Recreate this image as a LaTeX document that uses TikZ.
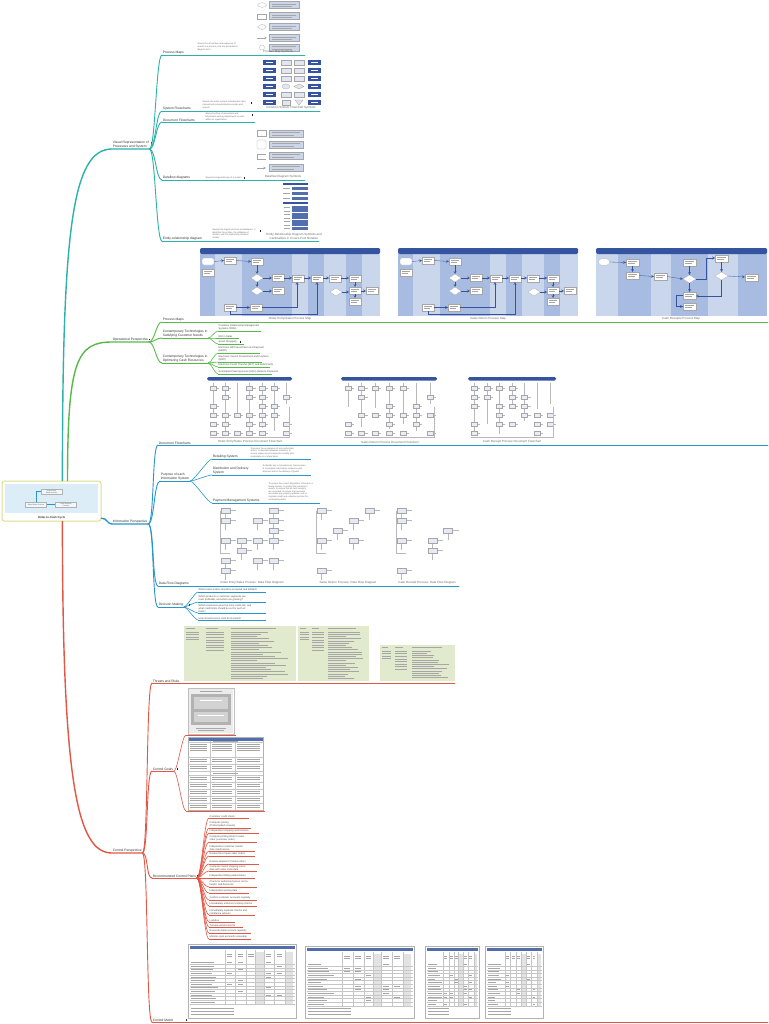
\documentclass[tikz,border=0pt]{standalone}
\usepackage{fontspec}
\setmainfont{Liberation Sans}
\newfontfamily\topicfont[Color=333333]{Liberation Sans}
\newfontfamily\leaffont[Color=4D4D4D]{Liberation Sans}
\newfontfamily\descfont[Color=6B6B6B]{Liberation Sans}
\usetikzlibrary{positioning}

\definecolor{tealbr}{RGB}{44,178,168}
\definecolor{greenbr}{RGB}{86,186,72}
\definecolor{bluebr}{RGB}{40,150,200}
\definecolor{redbr}{RGB}{228,86,68}
\definecolor{hdrblue}{RGB}{52,84,160}
\definecolor{lanelt}{RGB}{202,214,236}
\definecolor{lanedk}{RGB}{168,188,226}
\definecolor{symfill}{RGB}{204,214,234}
\definecolor{tblgreen}{RGB}{226,234,206}
\definecolor{rootbd}{RGB}{216,224,140}
\definecolor{rootin}{RGB}{220,237,247}

\tikzset{topic/.style = {font=\fontsize{3.3}{3.8}\topicfont,
                         inner sep=0.6pt, anchor=south west, align=left},
         leaf/.style = {font=\fontsize{2.5}{2.9}\leaffont,
                        inner sep=0.5pt, anchor=south west, align=left},
         descr/.style = {font=\fontsize{2.2}{2.6}\descfont,
                         inner sep=0.3pt, anchor=south west, align=left},
         imglabel/.style = {font=\fontsize{3}{3.5}\descfont,
                            inner sep=0.4pt, anchor=south, align=center},
         mainbr/.style = {line width=1.4, line cap=round},
         subbr/.style = {line width=0.9, line cap=round},
         leafbr/.style = {line width=0.6},
         wbox/.style = {fill=white, draw=gray!70, line width=0.2},
         txt/.style = {draw=black!35, line width=0.45},
         symline/.style = {draw=gray!70, line width=0.25},
         maplink/.style = {draw=hdrblue, line width=0.3, -stealth},
         mk/.style = {fill=black!85},
         rootbox/.style = {draw=rootbd, line width=1, fill=white, rounded corners=2.5,
                           minimum width=99, minimum height=40},
         orgbox/.style = {draw=gray!60, line width=0.25, fill=rootin!40!white,
                          font=\fontsize{1.7}{2}\leaffont, align=center,
                          minimum width=21, minimum height=5, inner sep=0.3pt},
         rootlbl/.style = {font=\fontsize{2.8}{3.2}\topicfont\bfseries}}

% swim-lane process map, order entry layout
\newcommand\procmapA[2]{%
  \begin{scope}[shift={(#1,#2)}]
    \fill[lanelt] (0,0) rectangle (180,68);
    \foreach \la/\lb in {0/15,42/92,108/124,146/162} \fill[lanedk] (\la,5) rectangle (\lb,68);
    \fill[hdrblue,rounded corners=1.5] (0,0) rectangle (180,6);
    \draw[wbox,rounded corners=2] (2,10) rectangle ++(12,7);
    \foreach \bx/\by in {2/21,24/9,51/10,72/26,72/39,92/27,111/27,129/27,149/27,149/39,149/50,166/39,24/56,50/56}{
      \draw[wbox] (\bx,\by) rectangle ++(12,7);
      \draw[txt,line width=0.3] ({\bx+2},{\by+2.5}) -- ++(8,0) ({\bx+2},{\by+4.5}) -- ++(6,0);}
    \foreach \dx/\dy in {51/30,51/43,130/44}
      \draw[wbox] (\dx,\dy) -- ++(6,-4) -- ++(6,4) -- ++(-6,4) -- cycle;
    \draw[maplink] (14,13.5) -- (24,12.5);
    \draw[maplink] (36,12.5) -- (51,13.5);
    \draw[maplink] (57,17) -- (57,26);
    \draw[maplink] (57,34) -- (57,39);
    \draw[maplink] (63,30) -- (72,30);
    \draw[maplink] (63,43) -- (72,43);
    \draw[maplink] (84,30) -- (92,30);
    \draw[maplink] (104,30) -- (111,30);
    \draw[maplink] (123,30) -- (129,30);
    \draw[maplink] (141,30) -- (149,30);
    \draw[maplink] (155,34) -- (155,39);
    \draw[maplink] (142,44) -- (149,44);
    \draw[maplink] (155,46) -- (155,50);
    \draw[maplink] (161,43) -- (166,43);
    \draw[maplink] (36,59.5) -- (50,59.5);
    \draw[maplink] (62,59.5) -- (97,59.5) -- (97,34);
    \draw[maplink] (30,63) -- (30,66) -- (117,66) -- (117,34);
  \end{scope}}

% swim-lane process map, cash receipts layout
\newcommand\procmapB[2]{%
  \begin{scope}[shift={(#1,#2)}]
    \fill[lanelt] (0,0) rectangle (171,68);
    \foreach \la/\lb in {22/55,75/112,142/171} \fill[lanedk] (\la,5) rectangle (\lb,68);
    \fill[hdrblue,rounded corners=1.5] (0,0) rectangle (171,6);
    \draw[wbox] (8,14) ellipse (6 and 3.5);
    \foreach \bx/\by in {30/11,30/24,58/25,87/11,87/44,87/55,119/7,149/26}{
      \draw[wbox] (\bx,\by) rectangle ++(13,7);
      \draw[txt,line width=0.3] ({\bx+2},{\by+2.5}) -- ++(9,0) ({\bx+2},{\by+4.5}) -- ++(7,0);}
    \foreach \dx/\dy in {87/31,119/28}
      \draw[wbox] (\dx,\dy) -- ++(6.5,-4) -- ++(6.5,4) -- ++(-6.5,4) -- cycle;
    \draw[maplink] (14,14) -- (30,14.5);
    \draw[maplink] (36.5,18) -- (36.5,24);
    \draw[maplink] (43,27.5) -- (58,28.5);
    \draw[maplink] (71,28.5) -- (87,31);
    \draw[maplink] (93.5,18) -- (93.5,27);
    \draw[maplink] (93.5,35) -- (93.5,44);
    \draw[maplink] (100,31) -- (110,31) -- (110,10) -- (119,10);
    \draw[maplink] (125.5,14) -- (125.5,24);
    \draw[maplink] (132,28) -- (149,29);
    \draw[maplink] (87,47.5) -- (80,47.5) -- (80,58.5) -- (87,58.5);
    \draw[maplink] (125.5,32) -- (125.5,48) -- (100,48);
  \end{scope}}

% document flowchart thumbnail
\newcommand\docflow[4]{% x, y, width, seed
  \begin{scope}[shift={(#1,#2)}]
    \pgfmathsetseed{#4}
    \fill[hdrblue,rounded corners=1.5] (0,0) rectangle (#3,3.5);
    \foreach \cl in {1,...,7}{
      \pgfmathsetmacro\xx{(\cl-0.5)*#3/7}
      \draw[gray!55,line width=0.25] (\xx,6) -- (\xx,{25+rnd*35});
      \foreach \rr in {1,...,6}{
        \pgfmathrandominteger{\kk}{0}{2}
        \ifnum\kk>0
          \draw[gray!55,line width=0.2] ({\xx+3},{\rr*9+2}) -- ++(3,0);
          \draw[wbox,fill=symfill!45] ({\xx-3},{\rr*9}) rectangle ++(6,4.5);
        \fi}}
    \draw[gray!55,line width=0.25] (3,60) -- ({#3-3},60) -- ({#3-3},30);
  \end{scope}}

% data flow diagram thumbnail
\newcommand\dfdpic[4]{% x, y, width, seed
  \begin{scope}[shift={(#1,#2)}]
    \pgfmathsetseed{#4}
    \foreach \rr in {0,...,6}{
      \foreach \cl in {0,...,3}{
        \pgfmathrandominteger{\kk}{0}{2}
        \ifnum\kk=0
          \draw[gray!55,line width=0.2] ({5.5+\cl*#3/4},{2+\rr*10}) -- ++(0,10) ({10+\cl*#3/4},{2.5+\rr*10}) -- ++(6,0);
          \draw[wbox,fill=symfill!50] ({1+\cl*#3/4},{\rr*10}) rectangle ++(9,5);
        \fi}}
    \draw[gray!55,line width=0.2] (0,3) -- (0,45) -- (10,45);
  \end{scope}}

% threats and risks table
\newcommand\risktable[5]{% x, y, width, height, seed
  \begin{scope}[shift={(#1,#2)}]
    \pgfmathsetseed{#5}
    \fill[tblgreen] (0,0) rectangle (#3,#4);
    \draw[txt] (2,2.5) -- ++({0.08*#3},0) ({0.2*#3},2.5) -- ++({0.1*#3},0)
               ({0.42*#3},2.5) -- ++({0.4*#3},0);
    \pgfmathtruncatemacro\nrows{(#4-8)/2.2}
    \foreach \rr in {0,...,\nrows}{
      \pgfmathsetmacro\lenx{(0.2+0.32*rnd)*#3}
      \draw[txt] ({0.42*#3},{6+\rr*2.2}) -- ++(\lenx,0);}
    \foreach \rr in {0,...,7}
      \draw[txt] ({0.2*#3},{6+\rr*2.6}) -- ++({0.16*#3},0);
    \foreach \rr in {0,...,3}
      \draw[txt] (2,{6+\rr*2.4}) -- ++({0.12*#3},0);
  \end{scope}}

% control matrix thumbnail
\newcommand\ctrlmatrix[5]{% x, y, width, height, seed
  \begin{scope}[shift={(#1,#2)}]
    \pgfmathsetseed{#5}
    \draw[gray!60,line width=0.3,fill=white] (0,0) rectangle (#3,#4);
    \fill[hdrblue!85] (1.5,1.5) rectangle ({#3-1.5},4.5);
    \pgfmathtruncatemacro\nrows{(#4-32)/3.6}
    \fill[gray!22] ({0.62*#3},8) rectangle ({0.7*#3},{20+\nrows*3.6});
    \fill[gray!22] ({0.9*#3},8) rectangle ({0.97*#3},{20+\nrows*3.6});
    \foreach \cl in {0.34,0.44,0.54,0.62,0.7,0.8,0.9}
      \draw[gray!45,line width=0.15] ({\cl*#3},6) -- ({\cl*#3},{20+\nrows*3.6});
    \foreach \rr in {0,...,\nrows}{
      \draw[gray!45,line width=0.15] (1.5,{20+\rr*3.6}) -- ({#3-1.5},{20+\rr*3.6});
      \pgfmathsetmacro\lenx{(0.12+0.15*rnd)*#3}
      \draw[txt] (2.5,{18.5+\rr*3.6}) -- ++(\lenx,0);
      \foreach \cl in {0.36,0.46,0.56,0.72,0.82}{
        \pgfmathrandominteger{\kk}{0}{3}
        \ifnum\kk=0 \draw[txt] ({\cl*#3},{18.5+\rr*3.6}) -- ++({0.05*#3},0);\fi}}
    \foreach \cl in {0.36,0.46,0.56,0.72,0.82}
      \draw[txt] ({\cl*#3},10) -- ++({0.05*#3},0) ({\cl*#3},12.5) -- ++({0.05*#3},0);
    \foreach \rr in {1,...,3}
      \draw[txt] (2.5,{#4-12+\rr*2.6}) -- ++({0.4*#3},0);
  \end{scope}}

\begin{document}
\begin{tikzpicture}[x=1pt,y=-1pt]
  \fill[white] (0,0) rectangle (768,1024);
  \useasboundingbox (0,0) rectangle (768,1024);

  % central topic
  \node[rootbox] (root) at (51.5,501) {};
  \fill[rootin] (5,484) rectangle (98,513);
  \node[orgbox] (org1) at (51.5,491.5) {Order Entry/\\Sales Process};
  \node[orgbox] (org2) at (36,504.5) {Sales Return Process};
  \node[orgbox] (org3) at (66,504.5) {Cash Receipts\\Process};
  \draw[bluebr,line width=0.4] (org1.west) -| (org2.north);
  \draw[bluebr,line width=0.4] (org2.east) -- (org3.west);
  \node[rootlbl] (rootname) at (51.5,517.5) {Order-to-Cash Cycle};

  %%% visual representation
  \node[topic] (vis) at (112,149) {Visual Representation of\\Processes and System};
  \draw[tealbr,mainbr] (root.62) .. controls +(0,-250) and +(-40,0) .. (vis.south west) -- (vis.south east);
  \fill[mk] (150.5,142) rectangle ++(1.3,1.7);
  \node[topic] (pm1) at (162,55) {Process Maps};
  \node[topic] (sf) at (162,111) {System Flowcharts};
  \node[topic] (dfc) at (162,122) {Document Flowcharts};
  \node[topic] (dfd) at (162,180) {Dataflow diagrams};
  \node[topic] (erd) at (162,241) {Entity-relationship diagram};
  \foreach \nd in {pm1,sf,dfc,dfd,erd}
    \draw[tealbr,subbr] (vis.south east) .. controls +(6,0) and +(-6,0) .. (\nd.south west);
  \draw[tealbr,subbr] (pm1.south west) -- ++(143,0);
  \draw[tealbr,subbr] (sf.south west) -- ++(158,0);
  \draw[tealbr,subbr] (dfc.south west) -- ++(93,0);
  \draw[tealbr,subbr] (dfd.south west) -- ++(143,0);
  \draw[tealbr,subbr] (erd.south west) -- ++(157,0);

  \node[descr] (pm1d) at (197,51) {Shows the actual flow and sequence of\\events in a process, that are presented in\\diagram form};
  \node[descr] (sfd) at (202,109) {Depicts the entire system including the input,\\manual and computerized processes and\\outputs};
  \node[descr] (dfcd) at (205,121) {Shows the flow of documents and\\information among departments or units\\within an organization};
  \node[descr] (dfdd) at (205,179) {Shows the logical design of a system};
  \node[descr] (erdd) at (212,239) {Depicts the logical structure of databases. It\\identifies the entities, the attributes of\\entities, and the relationship between\\entities};
  \fill[mk] (251,102) rectangle ++(1.2,1.6);
  \fill[mk] (252,114.5) rectangle ++(1.2,1.6);
  \fill[mk] (244,177) rectangle ++(1.2,1.6);
  \fill[mk] (260,230) rectangle ++(1.2,1.6);

  % process map symbols
  \begin{scope}[shift={(256,1)}]
    \draw[symline] (6,4) ellipse (4.5 and 2.3);
    \draw[symline] (1.5,13.5) rectangle ++(9,5);
    \draw[symline] (6,23) -- (10.5,26) -- (6,29) -- (1.5,26) -- cycle;
    \draw[symline,-stealth] (1,37) -- (11,37);
    \draw[symline] (6,46.5) circle (2.6);
    \foreach \sy in {0.5,11.5,22.5,33.5,43}{
      \draw[symline,fill=symfill] (13,\sy) rectangle ++(30,7);
      \draw[txt,line width=0.3] (16,{\sy+2.5}) -- ++(24,0) (16,{\sy+4.7}) -- ++(20,0);}
  \end{scope}
  \node[imglabel] (pmsym) at (278,54) {Process Map Symbols};

  % system flowchart symbols
  \begin{scope}[shift={(263,60)}]
    \foreach \sy in {0,8,...,40}{
      \fill[hdrblue] (0,\sy) rectangle ++(13,5);
      \fill[hdrblue] (45,\sy) rectangle ++(13,5);
      \draw[white,line width=0.35] (3,{\sy+2.5}) -- ++(7,0) (48,{\sy+2.5}) -- ++(7,0);}
    \foreach \sy in {0,8,16,32}{
      \draw[symline,fill=symfill!60] (18,\sy) rectangle ++(10,5);
      \draw[symline,fill=symfill!60] (31,\sy) rectangle ++(10,5);}
    \draw[symline,fill=symfill!60] (23,26.5) ellipse (4 and 2.5);
    \draw[symline,fill=symfill!60] (36,24) -- (41,26.5) -- (36,29) -- (31,26.5) -- cycle;
    \draw[symline,fill=symfill!60] (19,40) rectangle ++(8,5);
    \draw[symline,fill=symfill!60] (32,40) -- (40,40) -- (36,45) -- cycle;
  \end{scope}
  \node[imglabel] (sfsym) at (291,110) {Common System Flowchart Symbols};

  % dataflow diagram symbols
  \begin{scope}[shift={(257,130)}]
    \draw[symline] (0,0) rectangle (9,6);
    \draw[symline,rounded corners=1.5] (0,10) rectangle (9,19);
    \draw[symline] (9,24) -- (0,24) -- (0,29) -- (9,29);
    \draw[symline,-stealth] (0,38) -- (9,38);
    \foreach \sy in {0,11,22,34}{
      \draw[symline,fill=symfill] (12,\sy) rectangle ++(34,7);
      \draw[txt,line width=0.3] (15,{\sy+2.5}) -- ++(28,0) (15,{\sy+4.7}) -- ++(22,0);}
  \end{scope}
  \node[imglabel] (dfdsym) at (283,179) {Dataflow Diagram Symbols};

  % entity-relationship symbols
  \begin{scope}[shift={(282,183)}]
    \fill[hdrblue] (1,0) rectangle (26,2.5);
    \foreach \sy in {4,9,14}{
      \draw[symline] (1,{\sy+1.5}) -- (8,{\sy+1.5});
      \fill[hdrblue!85] (10,\sy) rectangle (26,{\sy+3});}
    \fill[hdrblue] (1,19) rectangle (26,21.5);
    \foreach \sy in {23,26.5,...,44}{
      \draw[txt,line width=0.3] (1.5,{\sy+1.5}) -- ++(6,0);
      \fill[hdrblue!85] (10,\sy) rectangle (26,{\sy+2.6});}
  \end{scope}
  \node[imglabel] (erdsym) at (294,240) {Entity-Relationship Diagram Symbols and\\Cardinalities in Crow's-Foot Notation};

  %%% operational perspective
  \node[topic] (op) at (112,342) {Operational Perspective};
  \draw[greenbr,mainbr] (root.52) .. controls +(0,-120) and +(-35,0) .. (op.south west) -- (op.south east);
  \fill[mk] (149,338.5) rectangle ++(1.3,1.7);
  \node[topic] (opm) at (162,322) {Process Maps};
  \node[topic] (ct1) at (162,338) {Contemporary Technologies in\\Satisfying Customer Needs};
  \node[topic] (ct2) at (162,363) {Contemporary Technologies in\\Optimizing Cash Resources};
  \foreach \nd in {opm,ct1,ct2}
    \draw[greenbr,subbr] (op.south east) .. controls +(6,0) and +(-6,0) .. (\nd.south west);
  \draw[greenbr,subbr] (opm.south west) -- ++(606,0);
  \draw[greenbr,subbr] (ct1.south west) -- (ct1.south east);
  \draw[greenbr,subbr] (ct2.south west) -- (ct2.south east);

  \procmapA{200}{248}
  \procmapA{398}{248}
  \procmapB{596}{248}
  \node[imglabel] (map1) at (290,320.5) {Order Entry/Sales Process Map};
  \node[imglabel] (map2) at (488,320.5) {Sales Return Process Map};
  \node[imglabel] (map3) at (681,320.5) {Cash Receipts Process Map};

  \node[leaf] (c11) at (218,331) {Customer Relationship Management\\Systems (CRM)};
  \node[leaf] (c12) at (218,338) {EDI in Sales};
  \node[leaf] (c13) at (218,344) {Smart Shopping};
  \foreach \nd/\ulen in {c11/43,c12/21,c13/26}{
    \draw[greenbr,leafbr] (ct1.south east) .. controls +(3,0) and +(-3,0) .. (\nd.south west);
    \draw[greenbr,leafbr] (\nd.south west) -- ++(\ulen,0);}
  \fill[mk] (240,341) rectangle ++(1.2,1.6);
  \node[leaf] (c21) at (218,353) {Electronic Bill Presentment and Payment\\(EBPP)};
  \node[leaf] (c22) at (218,362) {Electronic Invoice Presentment and Payment\\(EIPP)};
  \node[leaf] (c23) at (218,367) {Electronic Funds Transfer (EFT) and Debit Cards};
  \node[leaf] (c24) at (218,374) {Automated Clearing House (ACH) Network Payments};
  \foreach \nd/\ulen in {c21/42,c22/44,c23/52,c24/54}{
    \draw[greenbr,leafbr] (ct2.south east) .. controls +(3,0) and +(-3,0) .. (\nd.south west);
    \draw[greenbr,leafbr] (\nd.south west) -- ++(\ulen,0);}

  %%% information perspective
  \node[topic] (info) at (112,524) {Information Perspective};
  \draw[bluebr,mainbr] (root.-19) .. controls +(6,0) and +(-5,0) .. (info.south west) -- (info.south east);
  \node[topic] (idf) at (158,445) {Document Flowcharts};
  \node[topic] (purp) at (160,481) {Purpose of each\\Information System};
  \node[topic] (idfd) at (158,586) {Data Flow Diagrams};
  \node[topic] (dm) at (158,607) {Decision Making};
  \foreach \nd in {idf,purp,idfd,dm}
    \draw[bluebr,subbr] (info.south east) .. controls +(6,0) and +(-6,0) .. (\nd.south west);
  \draw[bluebr,subbr] (idf.south west) -- ++(610,0);
  \draw[bluebr,subbr] (purp.south west) -- (purp.south east);
  \draw[bluebr,subbr] (idfd.south west) -- ++(301,0);
  \draw[bluebr,subbr] (dm.south west) -- (dm.south east);
  \fill[mk] (189,604) rectangle ++(1.2,1.6);

  \docflow{207}{377}{85}{3}
  \docflow{341}{377}{96}{7}
  \docflow{468}{377}{88}{11}
  \node[imglabel] (doc1) at (250,444) {Order Entry/Sales Process Document Flowchart};
  \node[imglabel] (doc2) at (390,444) {Sales Return Process Document Flowchart};
  \node[imglabel] (doc3) at (512,444) {Cash Receipt Process Document Flowchart};

  \node[topic] (rs) at (212,459) {Retailing System};
  \node[topic] (dds) at (212,475) {Distribution and Delivery\\System};
  \node[topic] (pms) at (212,503) {Payment Management Systems};
  \foreach \nd/\ulen in {rs/99,dds/99,pms/108}{
    \draw[bluebr,leafbr] (purp.south east) .. controls +(4,0) and +(-4,0) .. (\nd.south west);
    \draw[bluebr,leafbr] (\nd.south west) -- ++(\ulen,0);}
  \node[descr] (rsd) at (250,458) {To ensure the acceptance of only authorized\\orders, to maintain adequate inventory, to\\ensure orders are processed accurately and\\completely on a timely basis};
  \node[descr] (ddsd) at (262,473) {To identify any inconsistencies, inaccuracies,\\or incomplete information related to each\\shipment and to the delivery of goods};
  \node[descr] (pmsd) at (268,501) {To ensure the correct disposition of funds in a\\timely manner, to protect the customer's\\assets, to ensure that all cash receipts\\are recorded, to ensure that accounts\\receivable are properly updated, and to\\maintain credit and collection policies for\\outstanding debts};

  \dfdpic{220}{508}{64}{5}
  \dfdpic{316}{508}{64}{9}
  \dfdpic{396}{508}{62}{13}
  \node[imglabel] (dfd1) at (252,585) {Order Entry/Sales Process: Data Flow Diagram};
  \node[imglabel] (dfd2) at (348,585) {Sales Return Process: Data Flow Diagram};
  \node[imglabel] (dfd3) at (427,585) {Cash Receipt Process: Data Flow Diagram};

  \node[leaf] (d1) at (198,592) {Which sales orders should be accepted and fulfilled?};
  \node[leaf] (d2) at (198,602) {Which products or customer segments are\\most profitable, and which are growing?};
  \node[leaf] (d3) at (198,613) {Which customers pose the most credit risk, and\\what credit limits should be set for each of\\them?};
  \node[leaf] (d4) at (198,620) {How should excess cash be invested?};
  \foreach \nd in {d1,d2,d3,d4}{
    \draw[bluebr,leafbr] (dm.south east) .. controls +(3,0) and +(-3,0) .. (\nd.south west);
    \draw[bluebr,leafbr] (\nd.south west) -- ++(68,0);}

  %%% control perspective
  \node[topic] (ctl) at (112,853) {Control Perspective};
  \draw[redbr,mainbr] (root.-62) .. controls +(0,260) and +(-35,0) .. (ctl.south west) -- (ctl.south east);
  \node[topic] (tr) at (152,683) {Threats and Risks};
  \node[topic] (cg) at (152,771) {Control Goals};
  \node[topic] (rcp) at (152,878) {Recommended Control Plans};
  \node[topic] (cm) at (152,1022) {Control Matrix};
  \foreach \nd in {tr,cg,rcp,cm}
    \draw[redbr,subbr] (ctl.south east) .. controls +(6,0) and +(-6,0) .. (\nd.south west);
  \draw[redbr,subbr] (tr.south west) -- ++(303,0);
  \draw[redbr,subbr] (cg.south west) -- (cg.south east);
  \draw[redbr,subbr] (rcp.south west) -- (rcp.south east);
  \draw[redbr,subbr] (cm.south west) -- ++(616,0);
  \fill[mk] (176.5,768) rectangle ++(1.2,1.6);
  \fill[mk] (197,875) rectangle ++(1.2,1.6);
  \fill[mk] (186,1019) rectangle ++(1.2,1.6);

  \risktable{184}{626}{112}{55}{2}
  \risktable{298}{626}{71}{55}{4}
  \risktable{380}{645}{75}{36}{6}

  % control goals figures
  \begin{scope}[shift={(188,688)}]
    \draw[gray!50,line width=0.3,fill=white] (0,0) rectangle (46,46);
    \fill[gray!15] (1,1) rectangle (45,45);
    \draw[txt] (12,3) -- ++(22,0);
    \fill[gray!60] (3,6) rectangle (43,37);
    \fill[gray!35] (6,9) rectangle (40,21);
    \fill[gray!35] (6,24) rectangle (40,34);
    \draw[white,line width=0.4] (12,12) -- ++(22,0) (10,27) -- ++(26,0);
    \draw[txt] (8,40) -- ++(30,0) (10,42.5) -- ++(26,0);
  \end{scope}
  \begin{scope}[shift={(188,737)}]
    \draw[gray!60,line width=0.3,fill=white] (0,0) rectangle (75,73);
    \fill[hdrblue!85] (0.5,0.5) rectangle (74.5,3.5);
    \foreach \la in {22,47} \draw[gray!45,line width=0.15] (\la,3.5) -- (\la,72.5);
    \foreach \ry in {5.5,20,27,34,38,45,52,59,66}
      \draw[gray!45,line width=0.15] (0.5,\ry) -- (74.5,\ry);
    \foreach \ry in {7.5,9.5,11.5,13.5,22,24,29,31,40,42,47,49,54,56,61,63,68,70}
      \draw[txt] (1.5,\ry) -- ++(17,0) (24,\ry) -- ++(20,0) (49,\ry) -- ++(23,0);
    \draw[txt] (25,4.5) -- ++(25,0) (25,36) -- ++(25,0);
  \end{scope}
  \coordinate (cgA) at (186,735);
  \coordinate (cgB) at (186,811);
  \foreach \nd/\ulen in {cgA/50,cgB/79}{
    \draw[redbr,leafbr] (cg.south east) .. controls +(4,0) and +(-4,0) .. (\nd);
    \draw[redbr,leafbr] (\nd) -- ++(\ulen,0);}

  % recommended control plans
  \foreach \nd/\yy/\ulen/\tx in {
      r1/818/40/{Customer credit check},
      r2/828/42/{Computer pricing\\(Preformatted screens)},
      r3/833/50/{Independent shipping authorization},
      r4/842/48/{Compare picking ticket to sales\\order (customer order)},
      r5/851/46/{Independent customer master\\data maintenance},
      r6/856/46/{Review file of open sales orders},
      r7/864/50/{Review shipment of sales orders},
      r8/871/48/{Computer match shipping notice\\data with sales order data},
      r9/878/46/{Independent billing authorization},
      r10/887/48/{Check for authorized prices, terms,\\freight, and discounts},
      r11/893/40/{Independent pricing data},
      r12/900/48/{Confirm customer accounts regularly},
      r13/906/48/{Immediately endorse incoming checks},
      r14/915/46/{Immediately separate checks and\\remittance advices},
      r15/922/26/{Lockbox},
      r16/927/34/{Turnaround documents},
      r17/933/42/{Reconcile bank account regularly},
      r18/939/42/{Monitor open accounts receivable}}{
    \node[leaf] (\nd) at (209,\yy) {\tx};
    \draw[redbr,leafbr] (rcp.south east) .. controls +(5,0) and +(-5,0) .. (\nd.south west);
    \draw[redbr,leafbr] (\nd.south west) -- ++(\ulen,0);}

  % control matrices
  \ctrlmatrix{188}{944}{108}{74}{21}
  \ctrlmatrix{305}{946}{109}{72}{23}
  \ctrlmatrix{425}{946}{54}{72}{25}
  \ctrlmatrix{485}{946}{58}{72}{27}
\end{tikzpicture}
\end{document}
